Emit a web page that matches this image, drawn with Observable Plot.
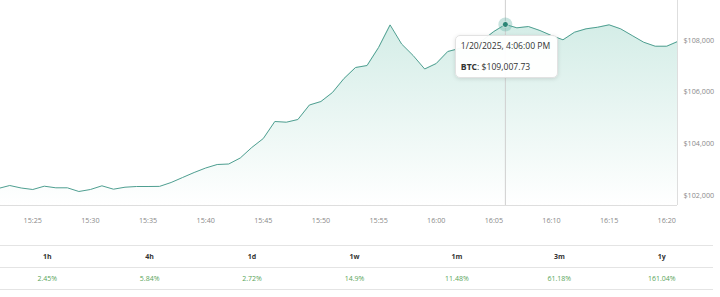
<!DOCTYPE html>
<html><head><meta charset="utf-8">
<script src="https://cdn.jsdelivr.net/npm/d3@7"></script>
<script src="https://cdn.jsdelivr.net/npm/@observablehq/plot@0.6"></script>
<style>
body{margin:0;background:#fff;font-family:"Open Sans",sans-serif;}
#wrap{position:relative;width:720px;height:297px;overflow:hidden;}
#chart{position:absolute;left:0;top:0;}
#tip{position:absolute;background:rgba(255,255,255,0.95);border:1px solid #e2e2e2;border-radius:5px;box-shadow:0 1px 4px rgba(0,0,0,0.12);font-size:8.6px;color:#333;padding:0 5px;box-sizing:border-box;}
#tip .l1{position:absolute;left:5px;top:4px;white-space:nowrap;}
#tip .l2{position:absolute;left:5px;top:25px;white-space:nowrap;}
table{position:absolute;left:-4px;top:245px;width:717px;border-collapse:collapse;table-layout:fixed;font-size:7px;}
td,th{text-align:center;height:21px;padding:0;border-top:1px solid #e4e4e4;border-bottom:1px solid #e4e4e4;}
th{color:#333;font-weight:700;}
td{color:#5aa55a;}
</style></head>
<body><div id="wrap"><div id="chart"></div><div id="tip"></div><table id="tbl"></table></div>
<script>
const startTime = "2025-01-20T15:22:00";
const prices = [102658,102774,102677,102619,102747,102685,102685,102542,102619,102762,
102631,102708,102735,102735,102740,102890,103084,103277,103451,103587,
103606,103838,104245,104593,105251,105224,105328,105889,106025,106373,
106915,107341,107418,108115,108990,108250,107805,107283,107495,107960,
108076,108231,108386,108734,109007.73,108877,108927,108773,108579,108413,
108707,108838,108900,108993,108838,108579,108320,108165,108165,108358];
const yTicks = [102000,104000,106000,108000];
const periods = ["1h","4h","1d","1w","1m","3m","1y"];
const changes = ["2.45%","5.84%","2.72%","14.9%","11.48%","61.18%","161.04%"];
const hoverTime = "2025-01-20T16:06:00";
const seriesName = "BTC";

const t0 = new Date(startTime);
const data = prices.map((p,i)=>({t:new Date(t0.getTime()+i*60000), p}));
const hover = data.find(d=>d.t.getTime()===new Date(hoverTime).getTime());

const xDomain = [new Date("2025-01-20T15:22:12"), new Date("2025-01-20T16:20:56")];
const fmtUSD = d3.format("$,");

const plot = Plot.plot({
  width:720, height:230,
  marginTop:0, marginBottom:25, marginLeft:0, marginRight:43,
  style:{fontFamily:"Open Sans", fontSize:"7px", color:"#888", background:"transparent"},
  x:{type:"time", domain:xDomain, label:null},
  y:{domain:[102000,109935], label:null},
  marks:[
    Plot.areaY(data,{x:"t",y1:102000,y2:"p",fill:"url(#agrad)",clip:true}),
    Plot.ruleX([hover],{x:"t",stroke:"#cfcfcf",strokeWidth:1}),
    Plot.lineY(data,{x:"t",y:"p",stroke:"#4f9f91",strokeWidth:1,clip:true}),
    Plot.ruleY([102000],{stroke:"#dedede"}),
    Plot.ruleX([xDomain[1]],{stroke:"#dedede"}),
    Plot.dot([hover],{x:"t",y:"p",r:7,fill:"#5fb0a2",fillOpacity:0.35}),
    Plot.dot([hover],{x:"t",y:"p",r:3,fill:"#2b8576",stroke:"#fff",strokeWidth:0.7}),
    Plot.axisX({ticks:d3.timeMinute.every(5),tickFormat:d3.timeFormat("%H:%M"),tickSize:0,tickPadding:12,fill:"#8a8a8a",fontSize:7.2,label:null}),
    Plot.axisY({anchor:"right",ticks:yTicks,tickFormat:fmtUSD,tickSize:0,tickPadding:6,dy:-10,fill:"#8a8a8a",fontSize:7.2,label:null})
  ]
});
document.getElementById("chart").appendChild(plot);
const svg = d3.select(plot);
const defs = svg.insert("defs",":first-child");
const g = defs.append("linearGradient").attr("id","agrad").attr("x1",0).attr("y1",0).attr("x2",0).attr("y2",1);
g.append("stop").attr("offset","0%").attr("stop-color","#d4ede7");
g.append("stop").attr("offset","100%").attr("stop-color","#ffffff");

// tooltip
const xs = plot.scale("x");
const hx = xs.apply(hover.t);
const tip = document.getElementById("tip");
tip.style.left = (hx-50)+"px";
tip.style.top = "35px";
tip.style.width = "103px";
tip.style.height = "43px";
const dt = hover.t;
const dateStr = `${dt.getMonth()+1}/${dt.getDate()}/${dt.getFullYear()}, ${((dt.getHours()+11)%12)+1}:${String(dt.getMinutes()).padStart(2,"0")}:${String(dt.getSeconds()).padStart(2,"0")} ${dt.getHours()>=12?"PM":"AM"}`;
tip.innerHTML = `<div class="l1">${dateStr}</div><div class="l2"><b>${seriesName}</b>: ${d3.format("$,.2f")(hover.p)}</div>`;

// table
const tbl = document.getElementById("tbl");
tbl.innerHTML = "<tr>"+periods.map(p=>`<th>${p}</th>`).join("")+"</tr><tr>"+changes.map(c=>`<td>${c}</td>`).join("")+"</tr>";
</script></body></html>
